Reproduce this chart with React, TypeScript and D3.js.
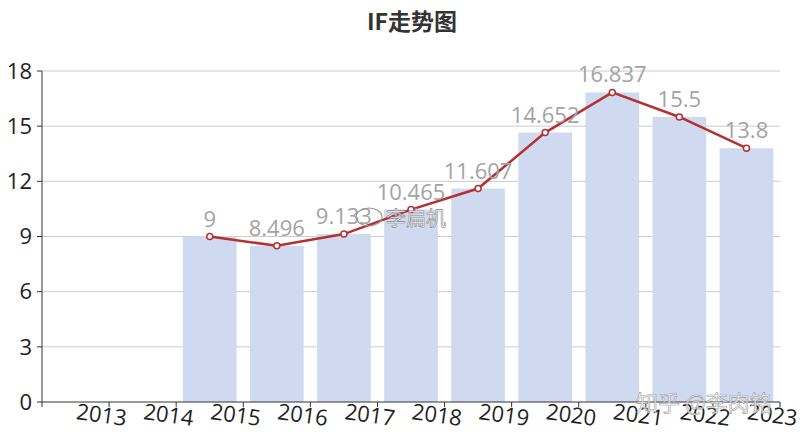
import React from "react";
import * as d3 from "d3";

// chart data
const years = ["2013", "2014", "2015", "2016", "2017", "2018", "2019", "2020", "2021", "2022", "2023"];
const ifValues: (number | null)[] = [null, null, 9, 8.496, 9.133, 10.465, 11.607, 14.652, 16.837, 15.5, 13.8];
const yTicks = [0, 3, 6, 9, 12, 15, 18];

const W = 802;
const H = 433;
const margin = { top: 71, right: 22, bottom: 31, left: 42 };

export default function App() {
  const xb = d3.scaleBand<string>().domain(years).range([margin.left, W - margin.right]);
  const y = d3.scaleLinear().domain([0, 18]).range([H - margin.bottom, margin.top]);

  const pts = years
    .map((yr, i) => ({ yr, v: ifValues[i] }))
    .filter((d) => d.v != null) as { yr: string; v: number }[];

  const cx = (yr: string) => xb(yr)! + xb.bandwidth() / 2;

  const line = d3
    .line<{ yr: string; v: number }>()
    .x((d) => cx(d.yr))
    .y((d) => y(d.v));

  const font = "'Open Sans', 'Noto Sans', sans-serif";

  return (
    <svg
      width={W}
      height={H}
      style={{ position: "absolute", left: 0, top: 0, background: "#fff" }}
      fontFamily={font}
    >
      <text
        x={412}
        y={30}
        textAnchor="middle"
        fontSize={23}
        fontWeight="bold"
        fill="#333"
        fontFamily="'Noto Sans CJK SC', sans-serif"
      >
        IF走势图
      </text>

      {/* grid + y axis */}
      {yTicks.map((t) => (
        <g key={t}>
          {t > 0 && (
            <line x1={margin.left} x2={W - margin.right} y1={y(t)} y2={y(t)} stroke="#ccc" strokeWidth={1} />
          )}
          <line x1={margin.left - 5} x2={margin.left} y1={y(t)} y2={y(t)} stroke="#333" />
          <text x={margin.left - 10} y={y(t)} dy="0.35em" textAnchor="end" fontSize={22} fill="#222">
            {t}
          </text>
        </g>
      ))}
      <line x1={margin.left} x2={margin.left} y1={margin.top} y2={H - margin.bottom} stroke="#333" />

      {/* bars */}
      {years.map((yr, i) =>
        ifValues[i] == null ? null : (
          <rect
            key={yr}
            x={xb(yr)! + xb.bandwidth() * 0.1}
            width={xb.bandwidth() * 0.8}
            y={y(ifValues[i] as number)}
            height={y(0) - y(ifValues[i] as number)}
            fill="#cfdaf1"
          />
        )
      )}

      {/* x axis */}
      <line x1={margin.left} x2={W - margin.right} y1={y(0)} y2={y(0)} stroke="#333" />
      {years.map((yr) => (
        <line key={"t" + yr} x1={xb(yr)!} x2={xb(yr)!} y1={y(0)} y2={y(0) + 5} stroke="#333" />
      ))}
      <line x1={W - margin.right} x2={W - margin.right} y1={y(0)} y2={y(0) + 5} stroke="#333" />
      {years.map((yr) => (
        <text
          key={"l" + yr}
          transform={`translate(${cx(yr)},${y(0) + 17}) rotate(8)`}
          fontSize={22}
          fill="#222"
        >
          {yr}
        </text>
      ))}

      {/* line */}
      <path d={line(pts)!} fill="none" stroke="#b5302f" strokeWidth={2.5} />
      {pts.map((d) => (
        <circle
          key={"c" + d.yr}
          cx={cx(d.yr)}
          cy={y(d.v)}
          r={3}
          fill="#fff"
          stroke="#b5302f"
          strokeWidth={1.5}
        />
      ))}
      {pts.map((d) => (
        <text
          key={"v" + d.yr}
          x={cx(d.yr)}
          y={y(d.v) - 10}
          textAnchor="middle"
          fontSize={22}
          fill="#a3a3a3"
        >
          {d.v}
        </text>
      ))}

      {/* watermarks */}
      <ellipse cx={369} cy={217} rx={13} ry={9} fill="none" stroke="#999" strokeWidth={1.2} />
      <text
        x={386}
        y={226}
        fontSize={20}
        fill="#fff"
        fillOpacity={0.85}
        stroke="#888"
        strokeWidth={0.6}
        fontFamily="'Noto Sans CJK SC', sans-serif"
      >
        李扁机
      </text>
      <text
        x={636}
        y={411}
        fontSize={22}
        fill="#fff"
        fillOpacity={0.8}
        stroke="#999"
        strokeWidth={0.6}
        fontFamily="'Noto Sans CJK SC', sans-serif"
      >
        知乎 @李肉铭
      </text>
    </svg>
  );
}
